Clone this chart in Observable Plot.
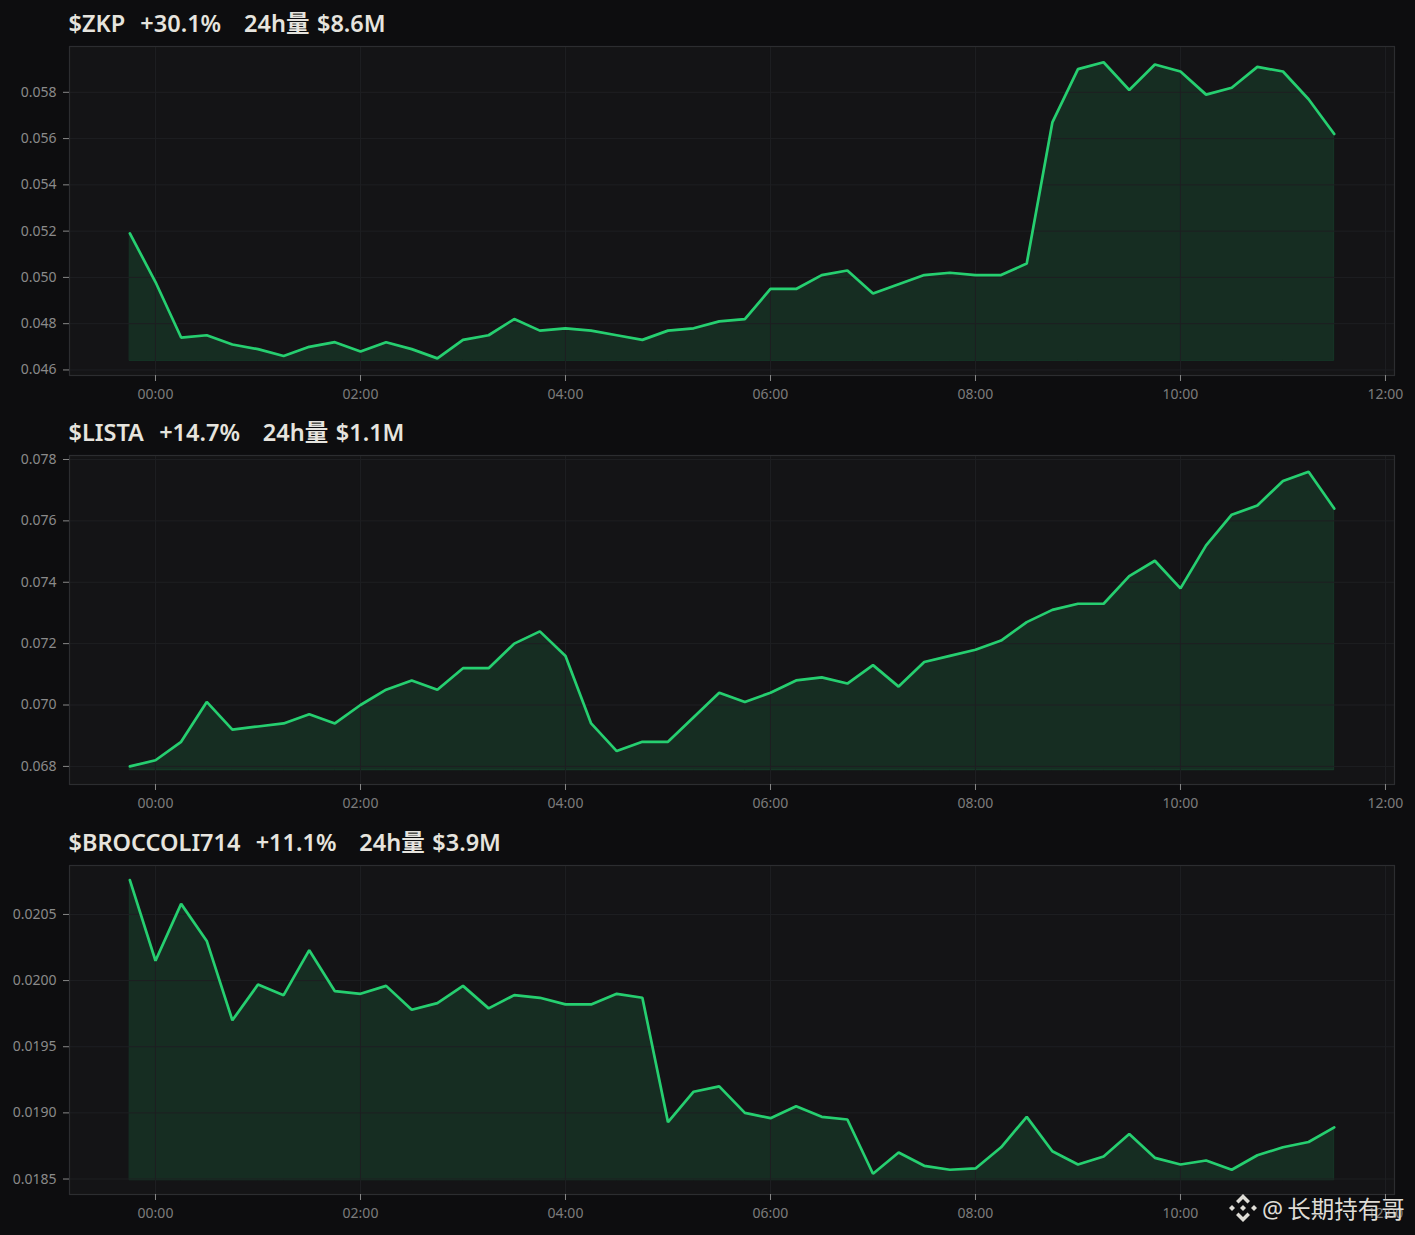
<!DOCTYPE html>
<html>
<head>
<meta charset="utf-8">
<script src="https://cdn.jsdelivr.net/npm/d3@7"></script>
<script src="https://cdn.jsdelivr.net/npm/@observablehq/plot@0.6"></script>
<style>
html,body{margin:0;padding:0;background:#0d0d0f;width:1415px;height:1235px;overflow:hidden}
#root{position:relative;width:1415px;height:1235px}
.title{position:absolute;left:68.5px;color:#e6e4de;font:600 23.5px "Noto Sans","Noto Sans CJK SC",sans-serif;word-spacing:1.5px;white-space:pre;line-height:30px}
.panel{position:absolute;left:0}
.panel svg{display:block}
#wm{position:absolute;left:1229px;top:1191px;width:186px;height:34px;display:flex;align-items:center;color:#dedcd6;font:400 23.5px "Noto Sans","Noto Sans CJK SC",sans-serif;word-spacing:-2px;white-space:pre}
#wm svg{flex:none;margin-right:5px}
</style>
</head>
<body>
<div id="root"></div>
<script>
const hours = [-0.25,0,0.25,0.5,0.75,1,1.25,1.5,1.75,2,2.25,2.5,2.75,3,3.25,3.5,3.75,4,4.25,4.5,4.75,5,5.25,5.5,5.75,6,6.25,6.5,6.75,7,7.25,7.5,7.75,8,8.25,8.5,8.75,9,9.25,9.5,9.75,10,10.25,10.5,10.75,11,11.25,11.5];
const zkp = [.0519,.0498,.0474,.0475,.0471,.0469,.0466,.0470,.0472,.0468,.0472,.0469,.0465,.0473,.0475,.0482,.0477,.0478,.0477,.0475,.0473,.0477,.0478,.0481,.0482,.0495,.0495,.0501,.0503,.0493,.0497,.0501,.0502,.0501,.0501,.0506,.0567,.0590,.0593,.0581,.0592,.0589,.0579,.0582,.0591,.0589,.0577,.0562];
const lista = [.0680,.0682,.0688,.0701,.0692,.0693,.0694,.0697,.0694,.0700,.0705,.0708,.0705,.0712,.0712,.0720,.0724,.0716,.0694,.0685,.0688,.0688,.0696,.0704,.0701,.0704,.0708,.0709,.0707,.0713,.0706,.0714,.0716,.0718,.0721,.0727,.0731,.0733,.0733,.0742,.0747,.0738,.0752,.0762,.0765,.0773,.0776,.0764];
const broccoli = [.02076,.02015,.02058,.02030,.01970,.01997,.01989,.02023,.01992,.01990,.01996,.01978,.01983,.01996,.01979,.01989,.01987,.01982,.01982,.01990,.01987,.01893,.01916,.01920,.01900,.01896,.01905,.01897,.01895,.01854,.01870,.01860,.01857,.01858,.01874,.01897,.01871,.01861,.01867,.01884,.01866,.01861,.01864,.01857,.01868,.01874,.01878,.01889];
const hourTicks = [0,2,4,6,8,10,12];
const titles = ["$ZKP  +30.1%   24h量 $8.6M","$LISTA  +14.7%   24h量 $1.1M","$BROCCOLI714  +11.1%   24h量 $3.9M"];
const yTicks = [
  [.046,.048,.050,.052,.054,.056,.058],
  [.068,.070,.072,.074,.076,.078],
  [.0185,.0190,.0195,.0200,.0205]
];
const yDomains = [[.04576,.05998],[.06741,.07813],[.018383,.02087]];
const baselines = [.04639,.06787,.01849];
const yFormats = [".3f",".3f",".4f"];
const series = [zkp,lista,broccoli];
const frameTops = [46,455,865];
const titleTops = [8,417,827];

const root = document.getElementById("root");
const fmtHour = h => String(h).padStart(2,"0") + ":00";

series.forEach((vals,i)=>{
  const t = document.createElement("div");
  t.className = "title";
  t.style.top = titleTops[i] + "px";
  t.textContent = titles[i];
  root.appendChild(t);

  const rows = hours.map((h,k)=>({h, v:vals[k], b:baselines[i]}));
  const fig = Plot.plot({
    width:1415, height:369,
    marginLeft:69, marginRight:21, marginTop:6, marginBottom:34,
    style:{background:"transparent",fontFamily:'"Noto Sans",sans-serif',fontSize:"14px"},
    x:{domain:[-0.839,12.088],label:null},
    y:{domain:yDomains[i],label:null},
    marks:[
      Plot.frame({fill:"#141416",stroke:"none"}),
      Plot.areaY(rows,{x:"h",y1:"b",y2:"v",fill:"#22c56e",fillOpacity:0.14,stroke:"#22c56e",strokeOpacity:0.12,strokeWidth:1}),
      Plot.gridX(hourTicks,{stroke:"#1e1f22",strokeOpacity:1,strokeWidth:1}),
      Plot.gridY(yTicks[i],{stroke:"#1e1f22",strokeOpacity:1,strokeWidth:1}),
      Plot.line(rows,{x:"h",y:"v",stroke:"#26cf70",strokeWidth:2.7,strokeLinejoin:"miter"}),
      Plot.frame({stroke:"#2c2d30",strokeWidth:1.2}),
      Plot.axisX(hourTicks,{tickFormat:fmtHour,tickSize:6,tickPadding:8,stroke:"#888",fill:"#7c7c7c",label:null}),
      Plot.axisY(yTicks[i],{tickFormat:d3.format(yFormats[i]),tickSize:6,tickPadding:7,stroke:"#888",fill:"#8a8a8a",label:null})
    ]
  });
  const d = document.createElement("div");
  d.className = "panel";
  d.style.top = (frameTops[i]-6) + "px";
  d.appendChild(fig);
  root.appendChild(d);
});

const wm = document.createElement("div");
wm.id = "wm";
wm.innerHTML = '<svg width="28" height="28" viewBox="-14 -14 28 28"><g fill="#dedcd6"><path d="M0-14L7-7 4.5-4.5 0-9-4.5-4.5-7-7Z"/><path d="M0 14L7 7 4.5 4.5 0 9-4.5 4.5-7 7Z"/><path d="M-14 0L-11-3-8 0-11 3Z"/><path d="M14 0L11-3 8 0 11 3Z"/><path d="M0-3L3 0 0 3-3 0Z"/></g></svg><span>@ 长期持有哥</span>';
root.appendChild(wm);
</script>
</body>
</html>
